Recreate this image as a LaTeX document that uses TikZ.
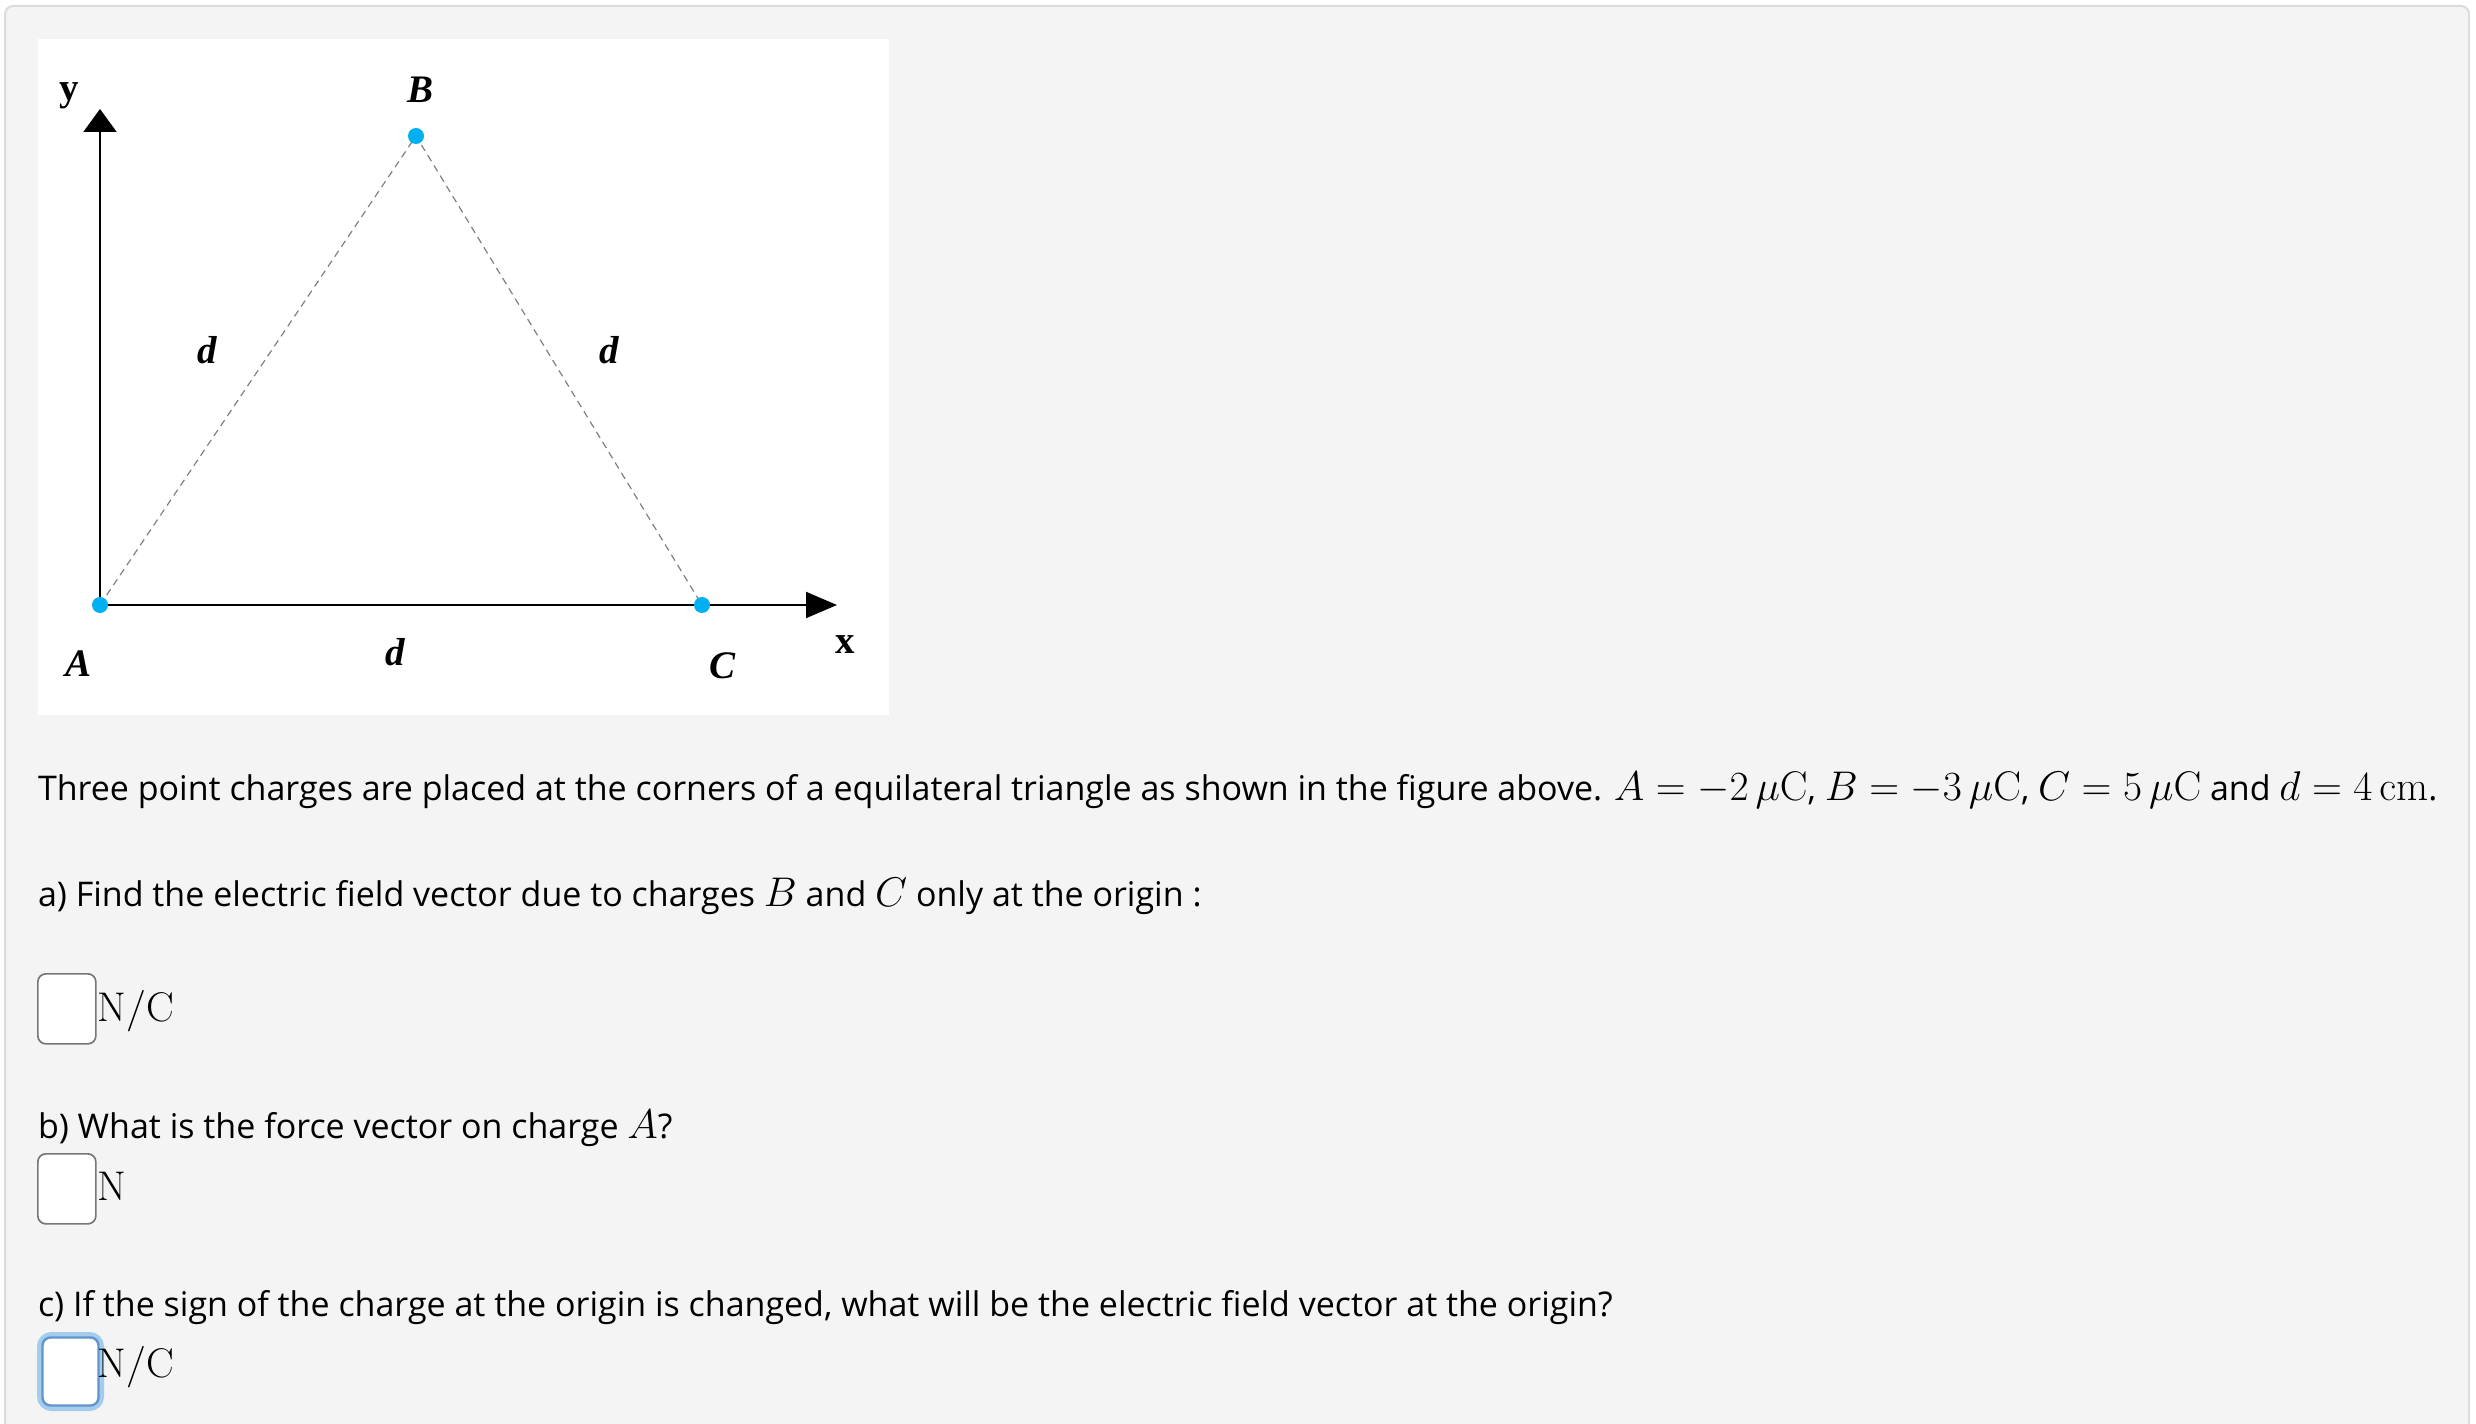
\documentclass[tikz,border=0pt]{standalone}
\usepackage[no-math]{fontspec}
\newfontfamily\uifont{Open Sans}
\newfontfamily\tmsfont{Liberation Serif}
\usetikzlibrary{arrows.meta}
\definecolor{panelbg}{HTML}{F4F4F4}
\definecolor{panelborder}{HTML}{DCDCDC}
\definecolor{chargecol}{HTML}{00B0F0}
\definecolor{dashcol}{HTML}{808080}
\definecolor{boxborder}{HTML}{777777}
\definecolor{glowcol}{HTML}{A4CCEC}
\definecolor{focusborder}{HTML}{5F95CC}
\newcommand{\mjx}[1]{{\fontsize{20.5}{24}\selectfont #1}}
\pgfdeclarelayer{bg}
\pgfsetlayers{bg,main}
\begin{document}
\begin{tikzpicture}[x=0.5pt,y=-0.5pt,
  ui/.style={anchor=base west,inner sep=0,outer sep=0,font=\uifont\fontsize{17}{20}\selectfont},
  unit/.style={anchor=base west,inner sep=0,outer sep=0,font=\fontsize{20.5}{24}\selectfont},
  lbl/.style={anchor=base,inner sep=0,font=\tmsfont\bfseries\itshape\fontsize{19.5}{22}\selectfont},
  axlbl/.style={anchor=base,inner sep=0,font=\tmsfont\bfseries\fontsize{19.5}{22}\selectfont},
  charge/.style={circle,fill=chargecol,minimum size=8pt,inner sep=0},
  axis/.style={line width=1pt,black},
  side/.style={dashcol,line width=0.6pt,dash pattern=on 3.5pt off 2.5pt},
  ansbox/.style={draw=boxborder,line width=0.85pt,fill=white,rounded corners=4pt},
]
\useasboundingbox (0,0) rectangle (2476,1423);
\begin{pgfonlayer}{bg}
\fill[white] (0,0) rectangle (2476,1423);
\draw[panelborder,fill=panelbg,line width=1pt,rounded corners=4pt] (5,6) rectangle (2469,1450);
\fill[white] (38,39) rectangle (889,715);
\end{pgfonlayer}

% charges
\node[charge] (A) at (100,605) {};
\node[charge] (B) at (416,136) {};
\node[charge] (C) at (702,605) {};
\coordinate (ytip) at (100,109);
\coordinate (xtip) at (837,605);
\begin{pgfonlayer}{bg}
\draw[side] (A.center) -- (B.center) -- (C.center);
\draw[axis,-{Triangle[length=11.5pt,width=16.5pt]}] (A.center) -- (ytip);
\draw[axis,-{Triangle[length=15.5pt,width=13pt]}] (A.center) -- (xtip);
\end{pgfonlayer}

% labels
\node[axlbl] (ly) at (69,101) {y};
\node[axlbl] (lx) at (845,653) {x};
\node[lbl] (lB) at (421,103) {B};
\node[lbl] (lA) at (79,676) {A};
\node[lbl] (lC) at (722,678) {C};
\node[lbl] (dAB) at (207,363) {d};
\node[lbl] (dBC) at (609,363) {d};
\node[lbl] (dAC) at (395,665) {d};

% text
\node[ui] (t1) at (38,800) {Three point charges are placed at the corners of a equilateral triangle as shown in the figure above. \mjx{$A=-2\,\mu\mathrm{C}$}, \mjx{$B=-3\,\mu\mathrm{C}$}, \mjx{$C=5\,\mu\mathrm{C}$} and \mjx{$d=4\,\mathrm{cm}$}.};
\node[ui] (ta) at (38,906) {a) Find the electric field vector due to charges \mjx{$B$} and \mjx{$C$} only at the origin :};
\node[ui] (tb) at (38,1138) {b) What is the force vector on charge \mjx{$A$}?};
\node[ui] (tc) at (38,1316) {c) If the sign of the charge at the origin is changed, what will be the electric field vector at the origin?};

% answer boxes
\node[ansbox,minimum width=29pt,minimum height=35pt,inner sep=0,anchor=north west] (box1) at (37,973) {};
\node[unit] (u1) at (97,1021) {$\mathrm{N}/\mathrm{C}$};
\node[ansbox,minimum width=29pt,minimum height=35pt,inner sep=0,anchor=north west] (box2) at (37,1153) {};
\node[unit] (u2) at (97,1200) {$\mathrm{N}$};
\node[draw=glowcol,line width=4.5pt,rounded corners=5pt,minimum width=29pt,minimum height=35pt,inner sep=0,anchor=north west] (glow3) at (37,1332) {};
\node[draw=focusborder,line width=1.2pt,fill=white,rounded corners=4pt,minimum width=28pt,minimum height=34pt,inner sep=0] (box3) at (glow3.center) {};
\node[unit] (u3) at (97,1377) {$\mathrm{N}/\mathrm{C}$};
\end{tikzpicture}
\end{document}
